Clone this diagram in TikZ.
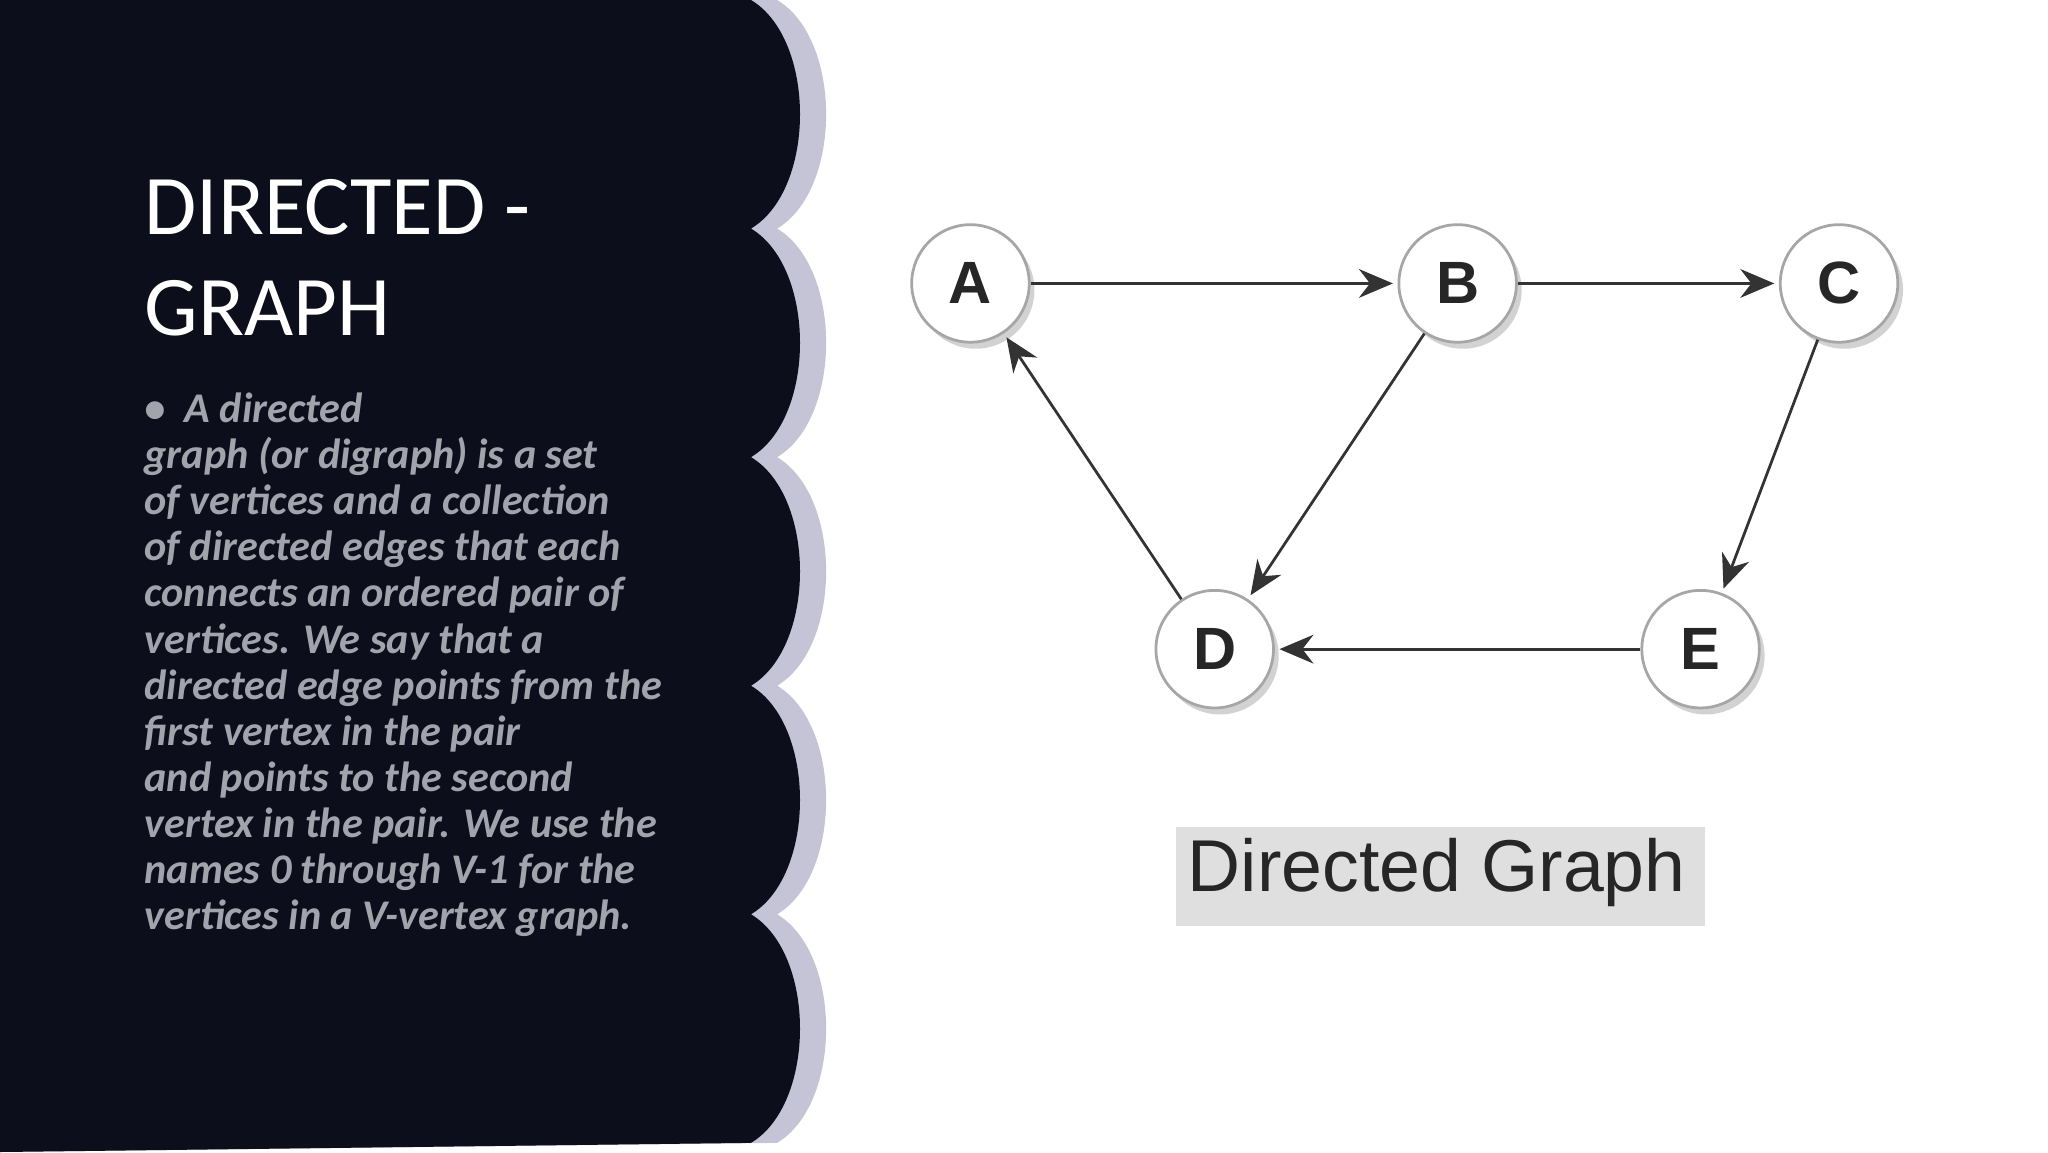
\documentclass[tikz,border=0pt]{standalone}
\usepackage{fontspec}
\setmainfont{Carlito}
\newfontfamily\arialf{Liberation Sans}
\usetikzlibrary{arrows.meta,shadows}
\definecolor{panel}{HTML}{0C0F1B}
\definecolor{wave}{HTML}{C4C4D6}
\definecolor{bodyg}{HTML}{A3A3AD}
\tikzset{
  vert/.style={circle,draw=gray!70,line width=0.6pt,fill=white,minimum size=0.9cm,inner sep=0pt,
    font=\arialf\bfseries\fontsize{13}{13}\selectfont,text=black!85,
    drop shadow={shadow xshift=0.04cm,shadow yshift=-0.05cm,fill=black!35,opacity=0.5}},
  edge/.style={-{Stealth[length=2.6mm,width=2.2mm]},line width=0.6pt,black!80,shorten >=1pt}
}
\begin{document}
\begin{tikzpicture}[x=1cm,y=1cm]
\useasboundingbox (0,0) rectangle (15.68,8.82);
\fill[white] (0,0) rectangle (15.68,8.82);
% light wave strip
\fill[wave] (0,8.82) -- (5.95,8.82)
  \foreach \i in {0,...,4} { .. controls ({6.45},{8.82-1.75*\i-0.3}) and ({6.45},{8.82-1.75*\i-1.45}) .. ({5.95},{8.82-1.75*\i-1.75}) }
  -- (0,0) -- cycle;
% dark panel
\fill[panel] (0,8.82) -- (5.75,8.82)
  \foreach \i in {0,...,4} { .. controls ({6.25},{8.82-1.75*\i-0.3}) and ({6.25},{8.82-1.75*\i-1.45}) .. ({5.75},{8.82-1.75*\i-1.75}) }
  -- (0,0) -- cycle;
% title
\node[anchor=north west,text=white,align=left,font=\fontsize{18.5}{22}\selectfont,inner sep=0pt] (title) at (1.10,7.45) {DIRECTED -\\GRAPH};
% body
\node[anchor=north west,text=bodyg,align=left,font=\bfseries\itshape\fontsize{9.2}{10.05}\selectfont,inner sep=0pt] (body) at (1.10,5.82)
{\textbullet\ \ A directed\\graph (or digraph) is a set\\of vertices and a collection\\of directed edges that each\\connects an ordered pair of\\vertices. We say that a\\directed edge points from the\\first vertex in the pair\\and points to the second\\vertex in the pair. We use the\\names 0 through V-1 for the\\vertices in a V-vertex graph.};
% graph
\node[vert] (A) at (7.43,6.65) {A};
\node[vert] (B) at (11.16,6.65) {B};
\node[vert] (C) at (14.08,6.65) {C};
\node[vert] (D) at (9.30,3.85) {D};
\node[vert] (E) at (13.02,3.85) {E};
\draw[edge] (A) -- (B);
\draw[edge] (B) -- (C);
\draw[edge] (B) -- (D);
\draw[edge] (C) -- (E);
\draw[edge] (E) -- (D);
\draw[edge] (D) -- (A);
\node[font=\arialf\fontsize{16}{16}\selectfont,text=black!85,
  drop shadow={shadow xshift=0.03cm,shadow yshift=-0.03cm,opacity=0.25}] (cap) at (11.0,2.14) {Directed Graph};
\end{tikzpicture}
\end{document}
